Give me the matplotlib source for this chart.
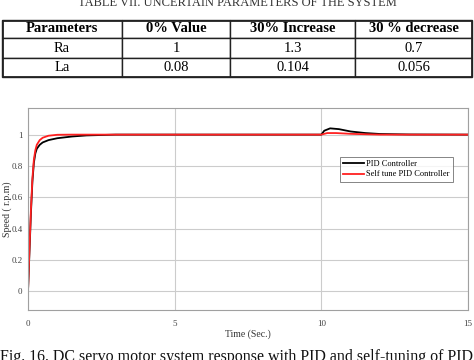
import matplotlib.pyplot as plt
import numpy as np

plt.rcParams['font.family'] = ['Liberation Serif', 'DejaVu Serif']

# table data
col_labels = ['Parameters', '0% Value', '30% Increase', '30 % decrease']
row_ra = ['Ra', '1', '1.3', '0.7']
row_la = ['La', '0.08', '0.104', '0.056']

# response curves
t_pid = [0, 0.05, 0.1, 0.15, 0.2, 0.25, 0.3, 0.4, 0.5, 0.7, 1.0, 1.5, 2.0, 3.0, 5.0,
         10.0, 10.1, 10.3, 10.6, 11.0, 11.5, 12.0, 13.0, 15.0]
y_pid = [0, 0.25, 0.5, 0.7, 0.82, 0.88, 0.91, 0.935, 0.95, 0.965, 0.977, 0.988, 0.995, 1.0, 1.0,
         1.0, 1.025, 1.04, 1.035, 1.02, 1.01, 1.004, 1.001, 1.0]
t_self = [0, 0.05, 0.1, 0.15, 0.2, 0.25, 0.3, 0.4, 0.5, 0.7, 1.0, 1.5, 5.0,
          10.0, 10.2, 10.5, 11.0, 12.0, 15.0]
y_self = [0, 0.27, 0.52, 0.72, 0.84, 0.9, 0.935, 0.965, 0.98, 0.993, 0.999, 1.0, 1.0,
          1.0, 1.01, 1.01, 1.005, 1.0, 1.0]

W, H = 474, 360
fig = plt.figure(figsize=(W / 100, H / 100), dpi=100)

# title of table (cut off at top)
fig.text(0.5, 1 - 3 / H, 'TABLE VII. UNCERTAIN PARAMETERS OF THE SYSTEM', ha='center', va='center',
         fontsize=9, color='#333333')

# table
tax = fig.add_axes([2 / W, 1 - 77 / H, 470 / W, 57 / H])
tax.axis('off')
tab = tax.table(cellText=[row_ra, row_la], colLabels=col_labels, bbox=[0, 0, 1, 1],
                cellLoc='center', colWidths=[120, 108, 125, 117])
tab.auto_set_font_size(False)
for (r, c), cell in tab.get_celld().items():
    cell.set_edgecolor('#222222')
    cell.set_linewidth(1.0)
    cell.get_text().set_fontsize(10.5)
    if r == 0:
        cell.get_text().set_fontweight('bold')
        cell.set_height(18)
    elif r == 1:
        cell.set_height(20)
    else:
        cell.set_height(19)
tax.add_patch(plt.Rectangle((0, 0), 1, 1, fill=False, lw=2, ec='#222222', transform=tax.transAxes))

# chart
x0, x1 = 28, 468
yt, yb = 108, 310
ax = fig.add_axes([x0 / W, 1 - yb / H, (x1 - x0) / W, (yb - yt) / H])
ax.plot(t_pid, y_pid, color='black', lw=1.3, label='PID Controller')
ax.plot(t_self, y_self, color='#ff2020', lw=1.3, label='Self tune PID Controller')
ax.set_xlim(0, 15)
ax.set_ylim(-0.12, 1.17)
ax.set_xticks([0, 5, 10, 15])
ax.set_yticks([0, 0.2, 0.4, 0.6, 0.8, 1])
ax.set_yticklabels(['0', '0.2', '0.4', '0.6', '0.8', '1'])
ax.grid(True, color='#cccccc', lw=0.8)
ax.tick_params(length=0, labelsize=6.5, colors='#444444')
ax.tick_params(axis='y', pad=4)
ax.tick_params(axis='x', pad=7)
for s in ax.spines.values():
    s.set_color('#a0a0a0')
    s.set_linewidth(0.8)
ax.set_xlabel('Time (Sec.)', fontsize=7, color='#333333', labelpad=1)
ax.set_ylabel('Speed ( r.p.m)', fontsize=7, color='#333333')
ax.yaxis.set_label_coords(-16 / (x1 - x0), 0.5)
leg = ax.legend(loc='upper right', bbox_to_anchor=(0.975, 0.78), fontsize=6, frameon=True,
                fancybox=False, edgecolor='#666666', handlelength=2.5, borderpad=0.4,
                labelspacing=0.3, handletextpad=0.2)
leg.get_frame().set_linewidth(0.7)

# caption (cut off at bottom)
fig.text(0.5, 1 - 357 / H, 'Fig. 16. DC servo motor system response with PID and self-tuning of PID',
         ha='center', va='center', fontsize=11.5, color='#111111')

fig.savefig('out.png', dpi=100)
